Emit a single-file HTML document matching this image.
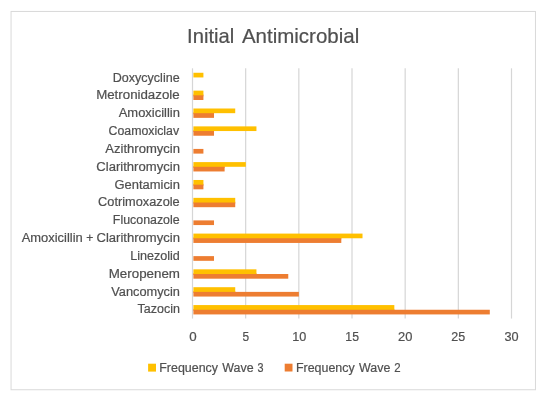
<!DOCTYPE html>
<html lang="en"><head><meta charset="utf-8"><title>Initial Antimicrobial</title>
<style>html,body{margin:0;padding:0;background:#fff}svg{display:block}text{font-family:"Liberation Sans",sans-serif;fill:#505050;stroke:#505050;stroke-width:0.2px}</style></head><body>
<svg width="550" height="400" viewBox="0 0 550 400">
<rect x="0" y="0" width="550" height="400" fill="#fff"/>
<rect x="11.05" y="11.45" width="524.4" height="378.3" fill="#fff" stroke="#d9d9d9" stroke-width="1"/>
<line x1="192.50" y1="68.30" x2="192.50" y2="318.55" stroke="#d6d6d6" stroke-width="1.2"/>
<line x1="245.67" y1="68.30" x2="245.67" y2="318.55" stroke="#d6d6d6" stroke-width="1.2"/>
<line x1="298.83" y1="68.30" x2="298.83" y2="318.55" stroke="#d6d6d6" stroke-width="1.2"/>
<line x1="352.00" y1="68.30" x2="352.00" y2="318.55" stroke="#d6d6d6" stroke-width="1.2"/>
<line x1="405.17" y1="68.30" x2="405.17" y2="318.55" stroke="#d6d6d6" stroke-width="1.2"/>
<line x1="458.33" y1="68.30" x2="458.33" y2="318.55" stroke="#d6d6d6" stroke-width="1.2"/>
<line x1="511.50" y1="68.30" x2="511.50" y2="318.55" stroke="#d6d6d6" stroke-width="1.2"/>
<rect x="193.40" y="72.76" width="10.01" height="4.68" fill="#ffc000"/>
<rect x="193.40" y="94.51" width="10.01" height="1.80" fill="#ed7d31"/>
<rect x="193.40" y="95.31" width="10.01" height="4.68" fill="#ed7d31"/>
<rect x="193.40" y="90.63" width="10.01" height="4.68" fill="#ffc000"/>
<rect x="193.40" y="112.38" width="20.61" height="1.80" fill="#ed7d31"/>
<rect x="193.40" y="113.18" width="20.61" height="4.68" fill="#ed7d31"/>
<rect x="193.40" y="108.50" width="41.83" height="4.68" fill="#ffc000"/>
<rect x="193.40" y="130.25" width="20.61" height="1.80" fill="#ed7d31"/>
<rect x="193.40" y="131.05" width="20.61" height="4.68" fill="#ed7d31"/>
<rect x="193.40" y="126.37" width="63.04" height="4.68" fill="#ffc000"/>
<rect x="193.40" y="148.92" width="10.01" height="4.68" fill="#ed7d31"/>
<rect x="193.40" y="165.99" width="31.22" height="1.80" fill="#ed7d31"/>
<rect x="193.40" y="166.79" width="31.22" height="4.68" fill="#ed7d31"/>
<rect x="193.40" y="162.11" width="52.43" height="4.68" fill="#ffc000"/>
<rect x="193.40" y="183.85" width="10.01" height="1.80" fill="#ed7d31"/>
<rect x="193.40" y="184.65" width="10.01" height="4.68" fill="#ed7d31"/>
<rect x="193.40" y="179.98" width="10.01" height="4.68" fill="#ffc000"/>
<rect x="193.40" y="201.72" width="41.83" height="1.80" fill="#ed7d31"/>
<rect x="193.40" y="202.52" width="41.83" height="4.68" fill="#ed7d31"/>
<rect x="193.40" y="197.85" width="41.83" height="4.68" fill="#ffc000"/>
<rect x="193.40" y="220.39" width="20.61" height="4.68" fill="#ed7d31"/>
<rect x="193.40" y="237.46" width="147.90" height="1.80" fill="#ed7d31"/>
<rect x="193.40" y="238.26" width="147.90" height="4.68" fill="#ed7d31"/>
<rect x="193.40" y="233.59" width="169.11" height="4.68" fill="#ffc000"/>
<rect x="193.40" y="256.13" width="20.61" height="4.68" fill="#ed7d31"/>
<rect x="193.40" y="273.21" width="63.04" height="1.80" fill="#ed7d31"/>
<rect x="193.40" y="274.01" width="94.86" height="4.68" fill="#ed7d31"/>
<rect x="193.40" y="269.33" width="63.04" height="4.68" fill="#ffc000"/>
<rect x="193.40" y="291.07" width="41.83" height="1.80" fill="#ed7d31"/>
<rect x="193.40" y="291.88" width="105.47" height="4.68" fill="#ed7d31"/>
<rect x="193.40" y="287.20" width="41.83" height="4.68" fill="#ffc000"/>
<rect x="193.40" y="308.94" width="200.93" height="1.80" fill="#ed7d31"/>
<rect x="193.40" y="309.75" width="296.40" height="4.68" fill="#ed7d31"/>
<rect x="193.40" y="305.07" width="200.93" height="4.68" fill="#ffc000"/>
<text y="43" font-size="19.80"><tspan x="187.08" textLength="47.12" lengthAdjust="spacingAndGlyphs">Initial</tspan> <tspan x="241.90" textLength="117.32" lengthAdjust="spacingAndGlyphs">Antimicrobial</tspan></text>
<text y="82" font-size="12.30"><tspan x="112.72" textLength="66.92" lengthAdjust="spacingAndGlyphs">Doxycycline</tspan></text>
<text y="99" font-size="12.30"><tspan x="96.15" textLength="83.53" lengthAdjust="spacingAndGlyphs">Metronidazole</tspan></text>
<text y="117" font-size="12.30"><tspan x="118.72" textLength="61.24" lengthAdjust="spacingAndGlyphs">Amoxicillin</tspan></text>
<text y="135" font-size="12.30"><tspan x="108.53" textLength="70.62" lengthAdjust="spacingAndGlyphs">Coamoxiclav</tspan></text>
<text y="153" font-size="12.30"><tspan x="105.32" textLength="74.65" lengthAdjust="spacingAndGlyphs">Azithromycin</tspan></text>
<text y="171" font-size="12.30"><tspan x="96.30" textLength="83.66" lengthAdjust="spacingAndGlyphs">Clarithromycin</tspan></text>
<text y="189" font-size="12.30"><tspan x="114.50" textLength="65.44" lengthAdjust="spacingAndGlyphs">Gentamicin</tspan></text>
<text y="206" font-size="12.30"><tspan x="98.11" textLength="81.55" lengthAdjust="spacingAndGlyphs">Cotrimoxazole</tspan></text>
<text y="224" font-size="12.30"><tspan x="112.83" textLength="66.83" lengthAdjust="spacingAndGlyphs">Fluconazole</tspan></text>
<text y="242" font-size="12.30"><tspan x="21.67" textLength="61.08" lengthAdjust="spacingAndGlyphs">Amoxicillin</tspan> <tspan x="86.35" textLength="7.04" lengthAdjust="spacingAndGlyphs">+</tspan> <tspan x="96.50" textLength="83.46" lengthAdjust="spacingAndGlyphs">Clarithromycin</tspan></text>
<text y="260" font-size="12.30"><tspan x="130.21" textLength="49.67" lengthAdjust="spacingAndGlyphs">Linezolid</tspan></text>
<text y="278" font-size="12.30"><tspan x="108.75" textLength="71.23" lengthAdjust="spacingAndGlyphs">Meropenem</tspan></text>
<text y="296" font-size="12.30"><tspan x="111.19" textLength="68.75" lengthAdjust="spacingAndGlyphs">Vancomycin</tspan></text>
<text y="313" font-size="12.30"><tspan x="137.57" textLength="42.35" lengthAdjust="spacingAndGlyphs">Tazocin</tspan></text>
<text y="341" font-size="12.30"><tspan x="189.17" textLength="7.42" lengthAdjust="spacingAndGlyphs">0</tspan></text>
<text y="341" font-size="12.30"><tspan x="242.59" textLength="6.60" lengthAdjust="spacingAndGlyphs">5</tspan></text>
<text y="341" font-size="12.30"><tspan x="292.25" textLength="14.05" lengthAdjust="spacingAndGlyphs">10</tspan></text>
<text y="341" font-size="12.30"><tspan x="345.36" textLength="13.58" lengthAdjust="spacingAndGlyphs">15</tspan></text>
<text y="341" font-size="12.30"><tspan x="398.12" textLength="14.35" lengthAdjust="spacingAndGlyphs">20</tspan></text>
<text y="341" font-size="12.30"><tspan x="451.23" textLength="13.89" lengthAdjust="spacingAndGlyphs">25</tspan></text>
<text y="341" font-size="12.30"><tspan x="504.49" textLength="14.14" lengthAdjust="spacingAndGlyphs">30</tspan></text>
<text y="372" font-size="12.30"><tspan x="159.27" textLength="58.75" lengthAdjust="spacingAndGlyphs">Frequency</tspan> <tspan x="222.39" textLength="31.26" lengthAdjust="spacingAndGlyphs">Wave</tspan> <tspan x="257.49" textLength="6.03" lengthAdjust="spacingAndGlyphs">3</tspan></text>
<text y="372" font-size="12.30"><tspan x="295.92" textLength="58.75" lengthAdjust="spacingAndGlyphs">Frequency</tspan> <tspan x="359.04" textLength="31.26" lengthAdjust="spacingAndGlyphs">Wave</tspan> <tspan x="394.18" textLength="6.36" lengthAdjust="spacingAndGlyphs">2</tspan></text>
<rect x="148.1" y="363.7" width="7.9" height="7.9" fill="#ffc000"/>
<rect x="284.7" y="363.7" width="7.8" height="7.8" fill="#ed7d31"/>
</svg></body></html>
